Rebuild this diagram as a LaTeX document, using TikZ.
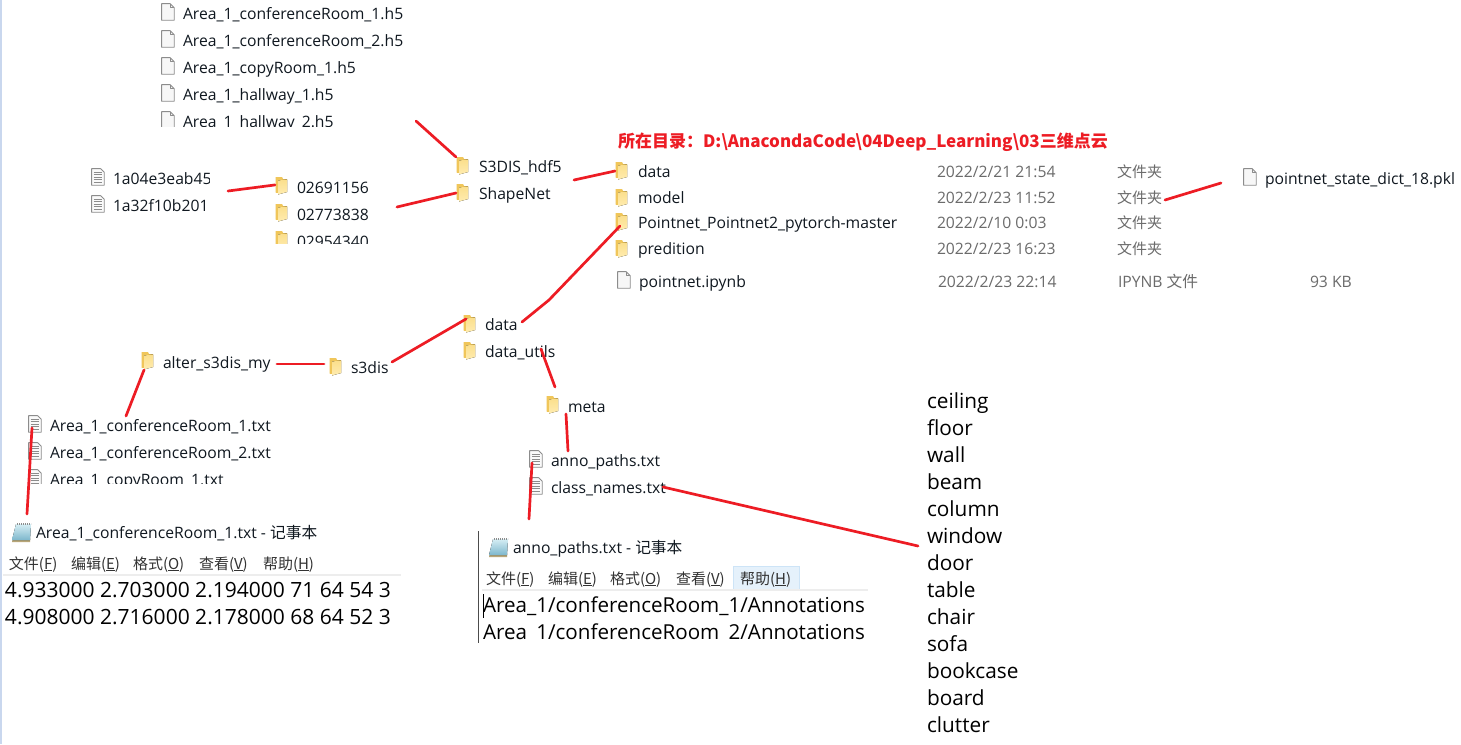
\documentclass[tikz,border=0pt]{standalone}
\usepackage{fontspec}
\setmainfont{Open Sans}
\newfontfamily\cjk{Noto Sans CJK SC}
\usetikzlibrary{calc}
\definecolor{redline}{HTML}{ED1C24}
\definecolor{gtext}{HTML}{6B6B6B}
\definecolor{ftext}{HTML}{101820}
\definecolor{foldA}{HTML}{FBDF8C}\definecolor{foldB}{HTML}{FFECB0}
\definecolor{foldC}{HTML}{F0C65A}
\definecolor{padA}{HTML}{D6EEF4}\definecolor{padB}{HTML}{7DB7CC}
\definecolor{padE}{HTML}{B8A678}
\definecolor{edgeblue}{HTML}{C9D7EE}
\definecolor{hlfill}{HTML}{E5F1FB}\definecolor{hlborder}{HTML}{CDE4F7}
\tikzset{
  x=1pt,y=-1pt,
  lbl/.style={anchor=base west,inner sep=0pt,outer sep=0pt,text=ftext,font=\fontsize{15.7}{16}\selectfont},
  metatext/.style={lbl,text=gtext,font=\fontsize{15.7}{16}\selectfont},
  kindtext/.style={lbl,text=gtext,font=\cjk\fontsize{15}{15}\selectfont},
  menu/.style={lbl,text=black!80,font=\cjk\fontsize{15}{15}\selectfont},
  big/.style={lbl,text=black,font=\fontsize{20.6}{21}\selectfont},
  bigdata/.style={lbl,text=black,font=\fontsize{21}{21}\selectfont},
  cls/.style={lbl,text=black,font=\fontsize{20.8}{21}\selectfont},
  link/.style={draw=redline,line width=2.7pt,line cap=round,line join=round},
  iconbox/.style={anchor=north west,inner sep=0pt,outer sep=0pt,minimum width=#1pt,minimum height=18pt},
  iconline/.style={draw=black!45,line width=.9pt,line join=round},
}
\newcommand\foldericon[3]{%
  \node[iconbox=12] (#1) at (#2,#3) {};
  \begin{scope}[shift={(#2,#3)}]
    \fill[foldC] (0.5,0) -- (7,0) -- (8,2) -- (12,2) -- (12,15) -- (1,16) -- (0.5,15) -- cycle;
    \fill[top color=foldA,bottom color=foldB] (3,3.5) -- (12,2.5) -- (12,15) -- (3,17.5) -- cycle;
  \end{scope}}
\newcommand\fileicon[3]{%
  \node[iconbox=14] (#1) at (#2,#3) {};
  \begin{scope}[shift={(#2,#3)}]
    \draw[iconline,fill=black!3] (.6,.6) -- (9,.6) -- (13.2,4.8) -- (13.2,17.2) -- (.6,17.2) -- cycle;
    \draw[iconline,line width=.7pt] (9,.6) -- (9,4.8) -- (13.2,4.8);
  \end{scope}}
\newcommand\txticon[3]{%
  \node[iconbox=14] (#1) at (#2,#3) {};
  \begin{scope}[shift={(#2,#3)}]
    \draw[iconline,fill=black!2] (.6,.6) -- (9.5,.6) -- (13.2,4.3) -- (13.2,17.2) -- (.6,17.2) -- cycle;
    \foreach \k in {4,6.5,9,11.5,14}{\draw[black!45,line width=.9pt] (2.5,\k) -- (11.2,\k);}
  \end{scope}}
\newcommand\padicon[3]{%
  \node[iconbox=20] (#1) at (#2,#3) {};
  \begin{scope}[shift={(#2,#3)}]
    \fill[padE] (1,16) -- (18,16) -- (18,20) -- (0,20) -- cycle;
    \fill[top color=padA,bottom color=padB] (4,2) -- (19,2) -- (18,18) -- (0,18) -- cycle;
    \draw[black!45,line width=1.4pt,dash pattern=on 1.2pt off .8pt] (5,2) -- (19,2);
  \end{scope}}
\begin{document}
\begin{tikzpicture}
\useasboundingbox (0,0) rectangle (1461,744);
\fill[white] (0,0) rectangle (1461,744);
\fill[edgeblue] (0,0) rectangle (1.5,744);
% h5 list
\begin{scope}
\clip (150,0) rectangle (420,126);
\fileicon{h1}{161}{3} \node[lbl] (t1) at (183,19) {Area\_1\_conferenceRoom\_1.h5};
\fileicon{h2}{161}{30} \node[lbl] (t2) at (183,46) {Area\_1\_conferenceRoom\_2.h5};
\fileicon{h3}{161}{57} \node[lbl] (t3) at (183,73) {Area\_1\_copyRoom\_1.h5};
\fileicon{h4}{161}{84} \node[lbl] (t4) at (183,100) {Area\_1\_hallway\_1.h5};
\fileicon{h5}{161}{111} \node[lbl] (t5) at (183,127) {Area\_1\_hallway\_2.h5};
\end{scope}
% shapenet files
\begin{scope}
\clip (80,160) rectangle (209,225);
\txticon{a1}{91}{168} \node[lbl] (at1) at (113,184) {1a04e3eab45};
\txticon{a2}{91}{195} \node[lbl] (at2) at (113,211) {1a32f10b201};
\end{scope}
\begin{scope}
\clip (265,170) rectangle (380,243);
\foldericon{n1}{275}{177} \node[lbl] (nt1) at (297,193) {02691156};
\foldericon{n2}{275}{204} \node[lbl] (nt2) at (297,220) {02773838};
\foldericon{n3}{275}{231} \node[lbl] (nt3) at (297,247) {02954340};
\end{scope}
\foldericon{s3}{456}{157} \node[lbl] (s3t) at (479,172) {S3DIS\_hdf5};
\foldericon{sn}{456}{184} \node[lbl] (snt) at (479,199) {ShapeNet};
% title
\node[lbl,text=redline,font=\cjk\bfseries\fontsize{17}{17}\selectfont] (title) at (618,147) {所在目录：D:\textbackslash AnacondaCode\textbackslash 04Deep\_Learning\textbackslash 03三维点云};
% root
\foldericon{rd}{615}{162} \node[lbl] (rdt) at (638,177) {data};
\foldericon{rm}{615}{189} \node[lbl] (rmt) at (638,203) {model};
\foldericon{rp}{615}{213} \node[lbl] (rpt) at (638,228) {Pointnet\_Pointnet2\_pytorch-master};
\foldericon{rr}{615}{240} \node[lbl] (rrt) at (638,254) {predition};
\fileicon{ri}{617}{271} \node[lbl] (rit) at (639,287) {pointnet.ipynb};
\node[metatext] (d1) at (937,177) {2022/2/21 21:54}; \node[kindtext] (k1) at (1117,177) {文件夹};
\node[metatext] (d2) at (937,203) {2022/2/23 11:52}; \node[kindtext] (k2) at (1117,203) {文件夹};
\node[metatext] (d3) at (937,228) {2022/2/10 0:03}; \node[kindtext] (k3) at (1117,228) {文件夹};
\node[metatext] (d4) at (937,254) {2022/2/23 16:23}; \node[kindtext] (k4) at (1117,254) {文件夹};
\node[metatext] (d5) at (938,287) {2022/2/23 22:14}; \node[metatext] (k5) at (1118,287) {IPYNB {\cjk 文件}};
\node[metatext] (sz) at (1310,287) {93 KB};
\fileicon{pk}{1243}{168} \node[lbl] (pkt) at (1265,184) {pointnet\_state\_dict\_18.pkl};
% middle
\foldericon{md}{463}{315} \node[lbl] (mdt) at (485,330) {data};
\foldericon{mu}{463}{342} \node[lbl] (mut) at (485,357) {data\_utils};
\foldericon{s3d}{329}{358} \node[lbl] (s3dt) at (351,373) {s3dis};
\foldericon{al}{141}{352} \node[lbl] (alt) at (163,368) {alter\_s3dis\_my};
\foldericon{me}{546}{396} \node[lbl] (met) at (568,412) {meta};
\txticon{an}{529}{450} \node[lbl] (ant) at (551,466) {anno\_paths.txt};
\txticon{cl}{529}{477} \node[lbl] (clt) at (551,493) {class\_names.txt};
\begin{scope}
\clip (20,405) rectangle (300,483);
\txticon{b1}{28}{415} \node[lbl] (bt1) at (50,431) {Area\_1\_conferenceRoom\_1.txt};
\txticon{b2}{28}{442} \node[lbl] (bt2) at (50,458) {Area\_1\_conferenceRoom\_2.txt};
\txticon{b3}{28}{469} \node[lbl] (bt3) at (50,485) {Area\_1\_copyRoom\_1.txt};
\end{scope}
% notepad 1
\padicon{np1}{12}{522}
\node[lbl] (np1t) at (36,538) {Area\_1\_conferenceRoom\_1.txt - {\cjk 记事本}};
\node[menu] (m11) at (9,569) {文件(\underline{F})};
\node[menu] (m12) at (71,569) {编辑(\underline{E})};
\node[menu] (m13) at (133,569) {格式(\underline{O})};
\node[menu] (m14) at (199,569) {查看(\underline{V})};
\node[menu] (m15) at (263,569) {帮助(\underline{H})};
\fill[black!7] (3,574) rectangle (401,576);
\node[bigdata] (v1) at (5,597) {4.933000 2.703000 2.194000 71 64 54 3};
\node[bigdata] (v2) at (5,624) {4.908000 2.716000 2.178000 68 64 52 3};
% notepad 2
\draw[black!70,line width=1pt] (478,531) -- (478,643);
\padicon{np2}{489}{537}
\node[lbl] (np2t) at (513,553) {anno\_paths.txt - {\cjk 记事本}};
\fill[hlfill] (733.5,566.5) rectangle (799,589);
\draw[hlborder,line width=.7pt] (733.5,566.5) rectangle (799,589);
\node[menu] (m21) at (486,584) {文件(\underline{F})};
\node[menu] (m22) at (548,584) {编辑(\underline{E})};
\node[menu] (m23) at (610,584) {格式(\underline{O})};
\node[menu] (m24) at (676,584) {查看(\underline{V})};
\node[menu] (m25) at (740,584) {帮助(\underline{H})};
\fill[black!7] (482,589) rectangle (868,591);
\begin{scope}
\clip (480,590) rectangle (880,639.5);
\draw[black,line width=.8pt] (483,594) -- (483,618);
\node[big] (w1) at (483,612) {Area\_1/conferenceRoom\_1/Annotations};
\node[big] (w2) at (483,639) {Area\_1/conferenceRoom\_2/Annotations};
\end{scope}
% classes
\node[cls] (c1) at (927,408) {ceiling};
\node[cls] (c2) at (927,435) {floor};
\node[cls] (c3) at (927,462) {wall};
\node[cls] (c4) at (927,489) {beam};
\node[cls] (c5) at (927,516) {column};
\node[cls] (c6) at (927,543) {window};
\node[cls] (c7) at (927,570) {door};
\node[cls] (c8) at (927,597) {table};
\node[cls] (c9) at (927,624) {chair};
\node[cls] (c10) at (927,651) {sofa};
\node[cls] (c11) at (927,678) {bookcase};
\node[cls] (c12) at (927,705) {board};
\node[cls] (c13) at (927,732) {clutter};
% free ends
\coordinate (e1) at (416,121);
\coordinate (e2) at (397,207);
\coordinate (e3) at (228,191);
\coordinate (e4) at (574,180);
\coordinate (e5a) at (1165,200);
\coordinate (e5b) at (1221,183);
\coordinate (e6) at (549,300);
\coordinate (e6b) at (522,322);
\coordinate (e7) at (392,362);
\coordinate (e8a) at (277,364);
\coordinate (e8b) at (324,364);
\coordinate (e9a) at (144,370);
\coordinate (e9b) at (126,416);
\coordinate (e10a) at (32,428);
\coordinate (e10b) at (27,514);
\coordinate (e11a) at (541,349);
\coordinate (e11b) at (555,387);
\coordinate (e12a) at (566,414);
\coordinate (e12b) at (568,451);
\coordinate (e13a) at (532,463);
\coordinate (e13b) at (529,519);
\coordinate (e14a) at (663,487);
\coordinate (e14b) at (918,546);
\coordinate (e15) at (466,319);
\path[link] (e1) -- (s3.north west);
\path[link] (e2) -- (sn.west);
\path[link] (e3) -- (n1.170);
\path[link] (e4) -- (rd.west);
\path[link] (e5a) -- (e5b);
\path[link] ($(rp.center)+(-1,4)$) -- (e6) -- (e6b);
\path[link] (e7) -- (e15);
\path[link] (e8a) -- (e8b);
\path[link] (e9a) -- (e9b);
\path[link] (e10a) -- (e10b);
\path[link] (e11a) -- (e11b);
\path[link] (e12a) -- (e12b);
\path[link] (e13a) -- (e13b);
\path[link] (e14a) -- (e14b);
\end{tikzpicture}
\end{document}
